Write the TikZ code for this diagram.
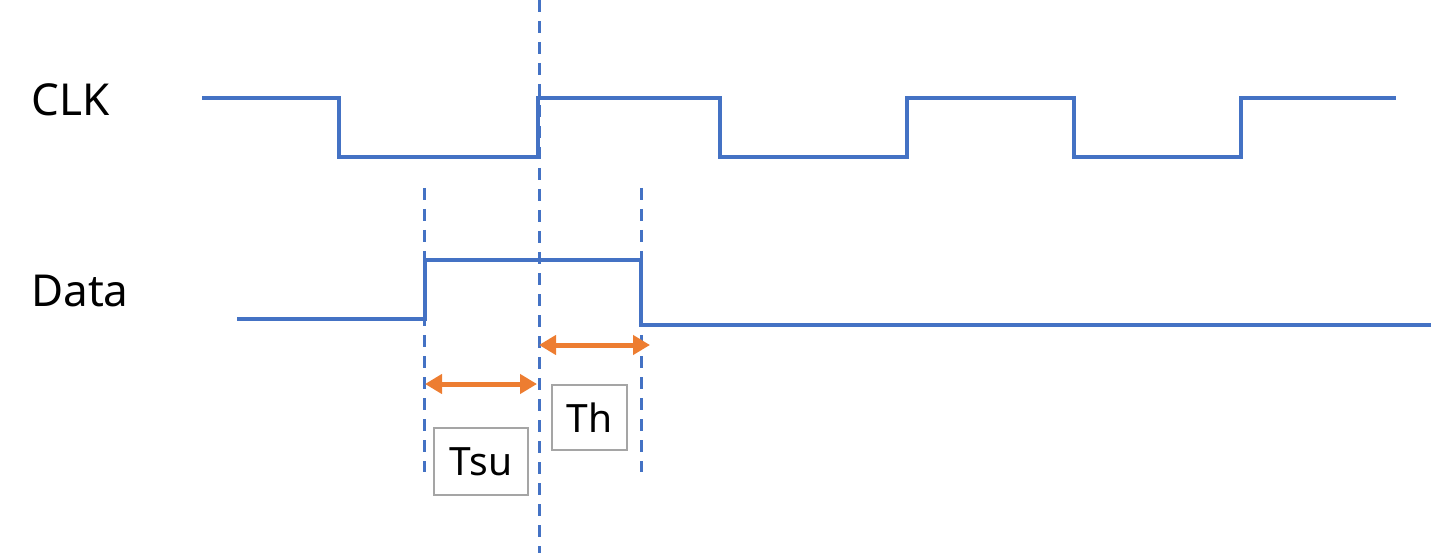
\documentclass[tikz,border=0pt]{standalone}
\usepackage{fontspec}
\setmainfont{Noto Sans}
\usetikzlibrary{arrows.meta}
\definecolor{sigblue}{HTML}{4472C4}
\definecolor{arrorange}{HTML}{ED7D31}
\definecolor{boxgray}{HTML}{A5A5A5}
\begin{document}
\begin{tikzpicture}[x=1pt,y=-1pt,
  signal/.style={draw=sigblue,line width=3.4pt,line join=miter},
  guide/.style={draw=sigblue,line width=3pt,dash pattern=on 12pt off 9pt},
  span/.style={draw=arrorange,line width=5pt,{Triangle[length=17pt,width=19pt]}-{Triangle[length=17pt,width=19pt]}},
  tbox/.style={draw=boxgray,line width=2.2pt,minimum width=#1,inner sep=0pt,font=\fontsize{39}{41}\selectfont},
  lbl/.style={anchor=base west,inner sep=0pt,font=\fontsize{44}{46}\selectfont}]
\useasboundingbox (0,0) rectangle (1431,553);
% labels
\node[lbl] (clklbl) at (31,116) {CLK};
\node[lbl] (datalbl) at (31,306) {Data};
% clock
\draw[signal] (202,98) -- (339,98) -- (339,157) -- (538,157) -- (538,98) -- (720,98) -- (720,157) -- (907,157) -- (907,98) -- (1074,98) -- (1074,157) -- (1241,157) -- (1241,98) -- (1396,98);
% data
\draw[signal] (237,319) -- (425,319) -- (425,260) -- (641,260) -- (641,325) -- (1431,325);
% guides
\coordinate (gctop) at (539,0);
\coordinate (gcbot) at (539,553);
\coordinate (gltop) at (424,188);
\coordinate (glbot) at (424,472);
\coordinate (grtop) at (641,188);
\coordinate (grbot) at (641,472);
\draw[guide] (gctop) -- (gcbot);
\draw[guide] (gltop) -- (glbot);
\draw[guide] (grtop) -- (grbot);
% spans
\coordinate (tsuA) at (425,384);
\coordinate (tsuB) at (537,384);
\coordinate (thA) at (539,345);
\coordinate (thB) at (650,345);
\draw[span] (tsuA) -- (tsuB);
\draw[span] (thA) -- (thB);
% boxes
\node[tbox=94pt,minimum height=67pt] (tsu) at (481,461.5) {Tsu};
\node[tbox=75pt,minimum height=65pt] (th) at (589.5,417.5) {Th};
\end{tikzpicture}
\end{document}
